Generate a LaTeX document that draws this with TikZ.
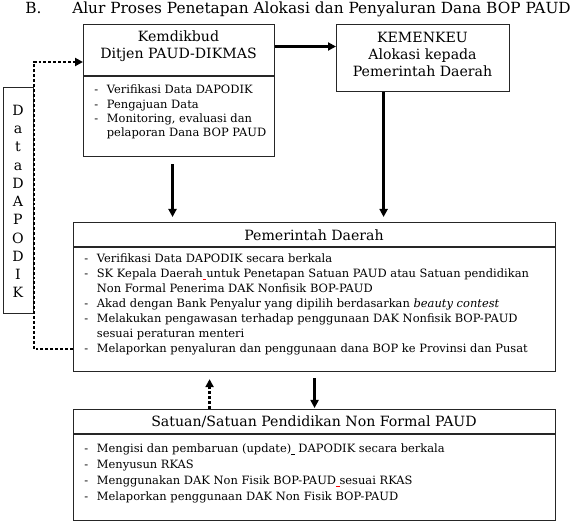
\documentclass[tikz,border=0pt]{standalone}
\usepackage{fontspec}
\setmainfont{DejaVu Serif}
\usetikzlibrary{arrows.meta}
\newcommand{\ulsp}[1]{{\color{#1}\rule[-1.6pt]{0.3em}{0.6pt}}}
\newcommand{\itm}{\makebox[1.1em][l]{-}}
\newcommand{\cnt}{\hspace*{1.1em}}
\begin{document}
\begin{tikzpicture}[x=0.75pt,y=-0.75pt,
  box/.style={draw=black!85, line width=0.85pt, inner sep=0pt, anchor=north west},
  divl/.style={draw=black!85, line width=0.85pt},
  ttl/.style={font=\fontsize{10.6}{12.75}\selectfont, align=center, inner sep=0pt},
  lst/.style={font=\fontsize{8.6}{10}\selectfont, inner sep=0pt, anchor=base west},
  arr/.style={line width=2pt, -{Triangle[length=6pt,width=6pt]}},
  dotl/.style={line width=2.2pt, dash pattern=on 2.2pt off 1.5pt},
  darr/.style={dotl, -{Triangle[length=6pt,width=6pt]}}]
\useasboundingbox[fill=white] (0,0) rectangle (572,523);

% title
\node[font=\fontsize{11.5}{13}\selectfont, inner sep=0pt, anchor=base west] (tb) at (25,14) {B.};
\node[font=\fontsize{11.5}{13}\selectfont, inner sep=0pt, anchor=base west] (tt) at (72,14) {Alur Proses Penetapan Alokasi dan Penyaluran Dana BOP PAUD};

% boxes
\node[box, minimum width={191*0.75pt}, minimum height={132*0.75pt}] (kem) at (83,24) {};
\node[box, minimum width={173*0.75pt}, minimum height={67*0.75pt}] (kmk) at (336,24) {};
\node[box, minimum width={30*0.75pt}, minimum height={226*0.75pt}] (data) at (3,87) {};
\node[box, minimum width={482*0.75pt}, minimum height={149*0.75pt}] (pem) at (73,222) {};
\node[box, minimum width={482*0.75pt}, minimum height={111*0.75pt}] (sat) at (73,409) {};

\draw[divl] (kem.west |- 0,76) -- (kem.east |- 0,76);
\draw[divl] (pem.west |- 0,247) -- (pem.east |- 0,247);
\draw[divl] (sat.west |- 0,434) -- (sat.east |- 0,434);

% box titles
\node[ttl] (kemt) at (178.5,46.5) {Kemdikbud\\Ditjen PAUD-DIKMAS};
\node[ttl] (kmkt) at (422.5,54) {KEMENKEU\\Alokasi kepada\\Pemerintah Daerah};
\node[ttl] (pemt) at (314,235) {Pemerintah Daerah};
\node[ttl] (satt) at (314,421.5) {Satuan/Satuan Pendidikan Non Formal PAUD};
\node[ttl, font=\fontsize{10.6}{13.7}\selectfont] (datat) at (18,201.5) {D\\a\\t\\a\\D\\A\\P\\O\\D\\I\\K};

% lists
\foreach \t [count=\i] in {{\itm Verifikasi Data DAPODIK},{\itm Pengajuan Data},{\itm Monitoring, evaluasi dan},{\cnt pelaporan Dana BOP PAUD}}
  \node[lst] (keml\i) at (94,{94+14.3*(\i-1)}) {\t};

\foreach \t [count=\i] in {{\itm Verifikasi Data DAPODIK secara berkala},
  {\itm SK Kepala Daerah\ulsp{red}untuk Penetapan Satuan PAUD atau Satuan pendidikan},
  {\cnt Non Formal Penerima DAK Nonfisik BOP-PAUD},
  {\itm Akad dengan Bank Penyalur yang dipilih berdasarkan \textit{beauty contest}},
  {\itm Melakukan pengawasan terhadap penggunaan DAK Nonfisik BOP-PAUD},
  {\cnt sesuai peraturan menteri},
  {\itm Melaporkan penyaluran dan penggunaan dana BOP ke Provinsi dan Pusat}}
  \node[lst] (peml\i) at (84,{263+15*(\i-1)}) {\t};

\foreach \t [count=\i] in {{\itm Mengisi dan pembaruan (update)\ulsp{black} DAPODIK secara berkala},
  {\itm Menyusun RKAS},
  {\itm Menggunakan DAK Non Fisik BOP-PAUD\ulsp{red}sesuai RKAS},
  {\itm Melaporkan penggunaan DAK Non Fisik BOP-PAUD}}
  \node[lst] (satl\i) at (84,{453+15.7*(\i-1)}) {\t};

% connectors
\draw[arr] (kem.east |- kemt) -- (kmk.west |- kemt);
\draw[arr, shorten <=5.25pt, shorten >=3.75pt] ([xshift=-4.9pt]kem.south) -- ([xshift=-4.9pt]kem.south |- pem.north);
\draw[arr, shorten >=3.75pt] ([xshift=-29.6pt]kmk.south) -- ([xshift=-29.6pt]kmk.south |- pem.north);
\draw[arr, shorten <=4.5pt, shorten >=0.75pt] (pem.south) -- (sat.north);
\draw[darr, shorten >=5.25pt] ([xshift=-78.75pt]sat.north) -- ([xshift=-78.75pt]sat.north |- pem.south);

\coordinate (dbot) at (34,349);
\coordinate (dtop) at (34,62);
\draw[darr] (pem.west |- dbot) -- (dbot) -- (dtop) -- (kem.west |- dtop);
\end{tikzpicture}
\end{document}
